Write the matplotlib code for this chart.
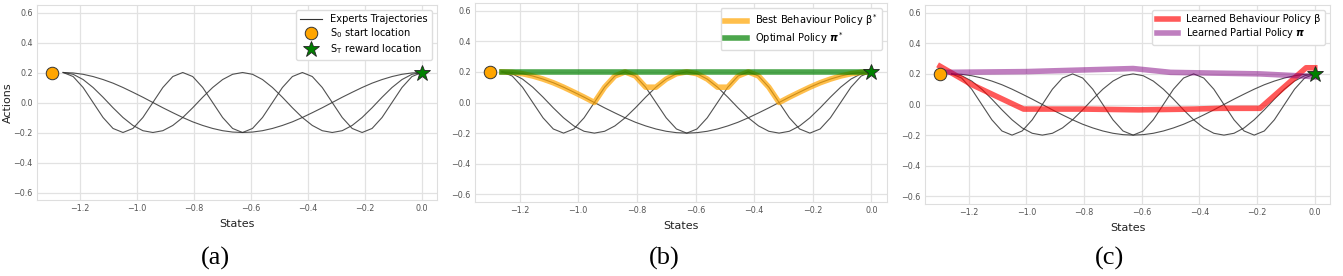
import matplotlib
matplotlib.use("Agg")
import matplotlib.pyplot as plt
import numpy as np
from matplotlib.lines import Line2D

# ---- data ----
x_states = [-1.26, -1.225, -1.19, -1.155, -1.12, -1.085, -1.05, -1.015, -0.98, -0.945,
            -0.91, -0.875, -0.84, -0.805, -0.77, -0.735, -0.70, -0.665, -0.63, -0.595,
            -0.56, -0.525, -0.49, -0.455, -0.42, -0.385, -0.35, -0.315, -0.28, -0.245,
            -0.21, -0.175, -0.14, -0.105, -0.07, -0.035, 0.0]
expert_1 = [0.2, 0.197, 0.188, 0.173, 0.153, 0.129, 0.1, 0.068, 0.035, 0.0, -0.035, -0.068,
            -0.1, -0.129, -0.153, -0.173, -0.188, -0.197, -0.2, -0.197, -0.188, -0.173,
            -0.153, -0.129, -0.1, -0.068, -0.035, 0.0, 0.035, 0.068, 0.1, 0.129, 0.153,
            0.173, 0.188, 0.197, 0.2]
expert_2 = [0.2, 0.188, 0.153, 0.1, 0.035, -0.035, -0.1, -0.153, -0.188, -0.2, -0.188,
            -0.153, -0.1, -0.035, 0.035, 0.1, 0.153, 0.188, 0.2, 0.188, 0.153, 0.1, 0.035,
            -0.035, -0.1, -0.153, -0.188, -0.2, -0.188, -0.153, -0.1, -0.035, 0.035, 0.1,
            0.153, 0.188, 0.2]
expert_3 = [0.2, 0.173, 0.1, 0.0, -0.1, -0.173, -0.2, -0.173, -0.1, 0.0, 0.1, 0.173, 0.2,
            0.173, 0.1, 0.0, -0.1, -0.173, -0.2, -0.173, -0.1, 0.0, 0.1, 0.173, 0.2, 0.173,
            0.1, 0.0, -0.1, -0.173, -0.2, -0.173, -0.1, 0.0, 0.1, 0.173, 0.2]
start_state, start_action = -1.30, 0.2
goal_state, goal_action = 0.0, 0.2
optimal_x = [-1.26, 0.0]
optimal_y = [0.2, 0.2]
beta_x = [-1.30, -1.19, -1.01, -0.80, -0.61, -0.42, -0.33, -0.19, -0.03, 0.0]
beta_y = [0.25, 0.13, -0.03, -0.03, -0.035, -0.03, -0.025, -0.025, 0.24, 0.24]
pi_x = [-1.28, -1.0, -0.63, -0.50, -0.19, -0.03, 0.0]
pi_y = [0.21, 0.215, 0.235, 0.21, 0.2, 0.185, 0.18]
captions = ["(a)", "(b)", "(c)"]

plt.rcParams['font.family'] = ['DejaVu Sans']
W, H = 1343, 276
fig = plt.figure(figsize=(W / 100, H / 100), dpi=100)


def box(l, t, r, b):
    return [l / W, (H - b) / H, (r - l) / W, (b - t) / H]


axes = [fig.add_axes(box(37, 5, 437, 200)),
        fig.add_axes(box(475, 3, 887, 202)),
        fig.add_axes(box(925, 5, 1330, 204))]

experts = [expert_1, expert_2, expert_3]
best_beta = np.maximum.reduce([np.array(e) for e in experts])

for ax in axes:
    ax.set_facecolor('white')
    ax.grid(True, color='#e2e2e2', lw=0.9)
    ax.set_axisbelow(True)
    for s in ax.spines.values():
        s.set_color('#dedede')
        s.set_linewidth(0.8)
    ax.tick_params(length=0, labelsize=5.8, colors='#555555', pad=3)
    ax.set_xlim(-1.352, 0.053)
    ax.set_ylim(-0.65, 0.65)
    ax.set_xticks([-1.2, -1.0, -0.8, -0.6, -0.4, -0.2, 0.0])
    ax.set_yticks([-0.6, -0.4, -0.2, 0.0, 0.2, 0.4, 0.6])
    ax.set_xlabel('States', fontsize=8, color='#222222', labelpad=4)
    for e in experts:
        ax.plot(x_states, e, color='#333333', lw=0.8, alpha=0.85, zorder=2)

axes[0].set_ylabel('Actions', fontsize=8, color='#222222')
axes[0].yaxis.set_label_coords(-0.06, 0.5)

# panel b
axes[1].plot(x_states, best_beta, color='orange', lw=4, alpha=0.7, zorder=3)
axes[1].plot(optimal_x, optimal_y, color='green', lw=4, alpha=0.7, zorder=4)
# panel c
axes[2].plot(beta_x, beta_y, color='red', lw=4, alpha=0.65, zorder=3)
axes[2].plot(pi_x, pi_y, color='purple', lw=4, alpha=0.5, zorder=4)

for ax in axes:
    ax.plot([start_state], [start_action], 'o', ms=9, mfc='orange', mec='#333333', mew=0.7, zorder=6)
    ax.plot([goal_state], [goal_action], '*', ms=12, mfc='green', mec='#222222', mew=0.6, zorder=7)

leg_kw = dict(loc='upper right', fontsize=7.1, frameon=True, framealpha=1, edgecolor='#dddddd',
              borderpad=0.45, handlelength=2.2, labelspacing=0.2, fancybox=True)

h_a = [Line2D([], [], color='#333333', lw=0.8),
       Line2D([], [], marker='o', ls='none', ms=9, mfc='orange', mec='#333333', mew=0.7),
       Line2D([], [], marker='*', ls='none', ms=12, mfc='green', mec='#222222', mew=0.6)]
axes[0].legend(h_a, ['Experts Trajectories', r'S$_0$ start location', r'S$_\mathrm{T}$ reward location'],
               **leg_kw)

h_b = [Line2D([], [], color='orange', lw=4, alpha=0.7),
       Line2D([], [], color='green', lw=4, alpha=0.7)]
axes[1].legend(h_b, [r'Best Behaviour Policy β$^*$', r'Optimal Policy $\boldsymbol{\pi}^*$'], **leg_kw)

h_c = [Line2D([], [], color='red', lw=4, alpha=0.65),
       Line2D([], [], color='purple', lw=4, alpha=0.5)]
axes[2].legend(h_c, ['Learned Behaviour Policy β', r'Learned Partial Policy $\boldsymbol{\pi}$'], **leg_kw)

for cx, cap in zip([215, 664, 1110], captions):
    fig.text(cx / W, (H - 258) / H, cap, ha='center', va='center', fontsize=19,
             family='Liberation Serif', color='black')

fig.savefig('out.png', dpi=100)
